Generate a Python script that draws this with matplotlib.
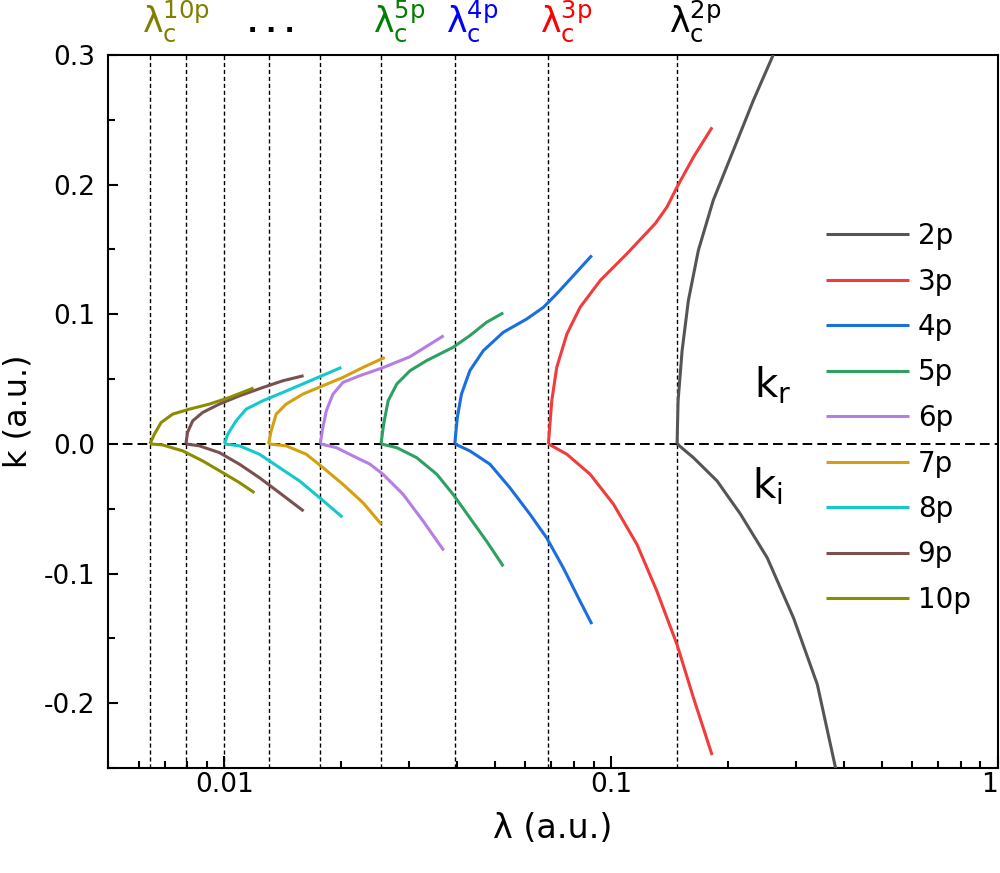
import matplotlib
matplotlib.use("Agg")
import matplotlib.pyplot as plt
from matplotlib.ticker import FixedLocator, MultipleLocator, FuncFormatter, LogLocator, NullFormatter

plt.rcParams['font.family'] = ['DejaVu Sans']
plt.rcParams['mathtext.default'] = 'regular'
plt.rcParams['axes.unicode_minus'] = False

# ---------------- data ----------------
labels = ['2p', '3p', '4p', '5p', '6p', '7p', '8p', '9p', '10p']
colors = ['#555555', '#F03C3C', '#1A6FDF', '#2EA062', '#B57EE5',
          '#D4A010', '#14C8CE', '#7A5050', '#8C8C00']
lam_c = [0.148, 0.0688, 0.0394, 0.0254, 0.0177, 0.0130, 0.0100, 0.00795, 0.00642]

lam_r_2p = [0.148, 0.1489, 0.1525, 0.1583, 0.168, 0.1836, 0.207, 0.2333, 0.2623]
k_r_2p = [0, 0.0333, 0.0719, 0.1106, 0.1493, 0.188, 0.2266, 0.2653, 0.300]
lam_i_2p = [0.148, 0.1631, 0.1878, 0.2158, 0.2532, 0.2961, 0.3411, 0.3804]
k_i_2p = [0, -0.0106, -0.0286, -0.0541, -0.0879, -0.1343, -0.1856, -0.2503]

lam_r_3p = [0.0688, 0.0702, 0.0723, 0.0768, 0.0831, 0.0937, 0.1098, 0.130, 0.1394, 0.148, 0.1633, 0.1823]
k_r_3p = [0, 0.0333, 0.059, 0.0848, 0.1054, 0.1261, 0.1467, 0.170, 0.1828, 0.1982, 0.2214, 0.2442]
lam_i_3p = [0.0688, 0.0768, 0.0882, 0.1014, 0.1166, 0.1313, 0.148, 0.1633, 0.1823]
k_i_3p = [0, -0.008, -0.0234, -0.0466, -0.0776, -0.1137, -0.1549, -0.1962, -0.240]

lam_r_4p = [0.0394, 0.0400, 0.0410, 0.0431, 0.0467, 0.0526, 0.0605, 0.0668, 0.0723, 0.0799, 0.0891]
k_r_4p = [0, 0.0203, 0.0384, 0.0565, 0.0719, 0.0861, 0.0964, 0.1054, 0.1158, 0.1299, 0.1454]
lam_i_4p = [0.0394, 0.0431, 0.0486, 0.0547, 0.0617, 0.0681, 0.0752, 0.0831, 0.0891]
k_i_4p = [0, -0.0054, -0.0157, -0.0338, -0.0544, -0.0725, -0.0957, -0.1214, -0.139]

lam_r_5p = [0.0254, 0.0258, 0.0265, 0.0279, 0.0302, 0.0333, 0.0390, 0.0431, 0.0476, 0.0526]
k_r_5p = [0, 0.0152, 0.0333, 0.0462, 0.0565, 0.0642, 0.0745, 0.0835, 0.0938, 0.1011]
lam_i_5p = [0.0254, 0.0279, 0.0314, 0.0354, 0.0390, 0.0431, 0.0476, 0.0526]
k_i_5p = [0, -0.0029, -0.0106, -0.0234, -0.0389, -0.057, -0.075, -0.0944]

lam_r_6p = [0.0177, 0.0179, 0.01834, 0.01908, 0.02025, 0.02237, 0.0257, 0.0302, 0.0369]
k_r_6p = [0, 0.0101, 0.0255, 0.0384, 0.0474, 0.0526, 0.0588, 0.0673, 0.0835]
lam_i_6p = [0.0177, 0.01948, 0.02194, 0.02375, 0.0257, 0.02897, 0.03264, 0.0369]
k_i_6p = [0, -0.0029, -0.0106, -0.0155, -0.0234, -0.0389, -0.0596, -0.0822]

lam_r_7p = [0.0130, 0.01321, 0.01361, 0.01444, 0.01595, 0.01798, 0.02025, 0.02282, 0.02597]
k_r_7p = [0, 0.0101, 0.023, 0.0307, 0.0384, 0.0449, 0.0513, 0.059, 0.0667]
lam_i_7p = [0.0130, 0.01444, 0.01628, 0.01798, 0.02025, 0.02282, 0.02547]
k_i_7p = [0, -0.0015, -0.008, -0.0183, -0.0312, -0.0454, -0.0621]

lam_r_8p = [0.0100, 0.0102, 0.01072, 0.01138, 0.01257, 0.01416, 0.01628, 0.0187, 0.02006]
k_r_8p = [0, 0.0075, 0.0178, 0.0268, 0.0333, 0.0397, 0.0474, 0.0551, 0.059]
lam_i_8p = [0.0100, 0.01094, 0.01232, 0.01388, 0.01564, 0.01762, 0.02018]
k_i_8p = [0, -0.0015, -0.008, -0.0183, -0.0286, -0.0415, -0.0565]

lam_r_9p = [0.00795, 0.00803, 0.00828, 0.00878, 0.0097, 0.01094, 0.01257, 0.01416, 0.01602]
k_r_9p = [0, 0.009, 0.0178, 0.0242, 0.0307, 0.0371, 0.0435, 0.0487, 0.0526]
lam_i_9p = [0.00795, 0.00861, 0.0097, 0.01094, 0.01232, 0.01388, 0.01602]
k_i_9p = [0, -0.0015, -0.0067, -0.0157, -0.0261, -0.0377, -0.0518]

lam_r_10p = [0.00642, 0.00659, 0.00686, 0.00735, 0.00812, 0.00914, 0.0103, 0.01189]
k_r_10p = [0, 0.0075, 0.0165, 0.023, 0.0268, 0.0307, 0.0358, 0.0431]
lam_i_10p = [0.00642, 0.00692, 0.0078, 0.00878, 0.0099, 0.01094, 0.01196]
k_i_10p = [0, -0.0008, -0.0054, -0.0131, -0.0222, -0.0299, -0.0377]

series = [
    (lam_r_2p, k_r_2p, lam_i_2p, k_i_2p),
    (lam_r_3p, k_r_3p, lam_i_3p, k_i_3p),
    (lam_r_4p, k_r_4p, lam_i_4p, k_i_4p),
    (lam_r_5p, k_r_5p, lam_i_5p, k_i_5p),
    (lam_r_6p, k_r_6p, lam_i_6p, k_i_6p),
    (lam_r_7p, k_r_7p, lam_i_7p, k_i_7p),
    (lam_r_8p, k_r_8p, lam_i_8p, k_i_8p),
    (lam_r_9p, k_r_9p, lam_i_9p, k_i_9p),
    (lam_r_10p, k_r_10p, lam_i_10p, k_i_10p),
]

top_labels = [(0.00642, '10p', '#808000'), (0.0254, '5p', '#008000'),
              (0.0394, '4p', '#0000FF'), (0.0688, '3p', '#FF0000'),
              (0.148, '2p', 'black')]

# ---------------- figure ----------------
fig = plt.figure(figsize=(10, 8.73), dpi=100)
ax = fig.add_axes([0.108, 0.1203, 0.890, 0.8167])

for lc in lam_c:
    ax.axvline(lc, color='black', lw=1.0, ls=(0, (3, 2)), zorder=1)
ax.axhline(0, color='black', lw=1.4, ls=(0, (5, 2.6)), zorder=1)

for (lr, kr, li, ki), lab, col in zip(series, labels, colors):
    ax.plot(lr, kr, color=col, lw=2.2, label=lab, zorder=3,
            solid_capstyle='butt', solid_joinstyle='round')
    ax.plot(li, ki, color=col, lw=2.2, zorder=3,
            solid_capstyle='butt', solid_joinstyle='round')

ax.set_xscale('log')
ax.set_xlim(0.005, 1)
ax.set_ylim(-0.25, 0.3)

ax.xaxis.set_major_locator(FixedLocator([0.01, 0.1, 1]))
ax.xaxis.set_major_formatter(FuncFormatter(lambda v, p: f"{v:g}"))
ax.xaxis.set_minor_locator(LogLocator(base=10, subs=range(2, 10), numticks=20))
ax.xaxis.set_minor_formatter(NullFormatter())
ax.yaxis.set_major_locator(MultipleLocator(0.1))
ax.yaxis.set_minor_locator(MultipleLocator(0.05))
ax.yaxis.set_major_formatter(FuncFormatter(lambda v, p: f"{0.0 if abs(v) < 1e-9 else v:.1f}"))

ax.tick_params(which='both', direction='in', top=False, right=False, width=1.5)
ax.tick_params(axis='x', which='major', length=9, labelsize=19, pad=3)
ax.tick_params(axis='x', which='minor', length=5)
ax.tick_params(axis='y', which='major', length=7, labelsize=19, pad=9)
ax.tick_params(axis='y', which='minor', length=5)
for s in ax.spines.values():
    s.set_linewidth(1.5)

ax.set_xlabel('λ (a.u.)', fontsize=24)
ax.set_ylabel('k (a.u.)', fontsize=23)
ax.xaxis.set_label_coords(0.5, -0.062)
ax.yaxis.set_label_coords(-0.084, 0.5)

for lc, sup, col in top_labels:
    ax.annotate(r'$λ_{c}^{' + sup + '}$', xy=(lc, 1), xycoords=('data', 'axes fraction'),
                xytext=(-6, 8), textcoords='offset points', ha='left', va='bottom',
                fontsize=25, color=col)
fig.text(0.271, 1 - 23 / 873, '. . .', ha='center', va='center', fontsize=24,
         fontweight='bold', family='Liberation Sans')

fig.text(0.754, 1 - 397 / 873, r'$k_r$', fontsize=29, ha='left', va='baseline')
fig.text(0.752, 1 - 498 / 873, r'$k_i$', fontsize=29, ha='left', va='baseline')

ax.legend(loc='upper left', bbox_to_anchor=(0.826, 1 - 222 / 873),
          bbox_transform=fig.transFigure, frameon=False, fontsize=20,
          handlelength=3.0, handletextpad=0.3, labelspacing=0.63,
          borderpad=0, borderaxespad=0)

# keep the "1" label inside the canvas (reference shows it flush with the right edge)
fig.canvas.draw()
for t in ax.get_xticklabels():
    if t.get_text() == '1':
        t.set_horizontalalignment('right')

fig.savefig('out.png', dpi=100)
